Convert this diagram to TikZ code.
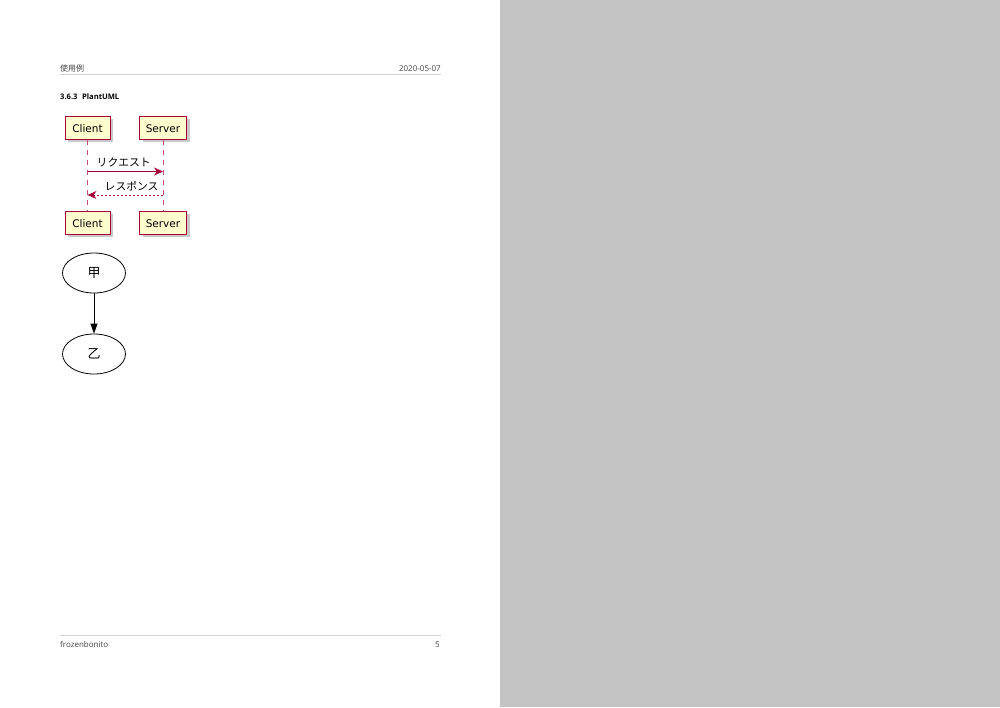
\documentclass[tikz,border=0pt]{standalone}
\usepackage{fontspec}
\setmainfont{Open Sans}
\newfontfamily\cjk{Noto Sans CJK JP}
\newfontfamily\dvs{DejaVu Sans}
\usetikzlibrary{arrows.meta,shapes.geometric,shadows}
\definecolor{pagegray}{HTML}{C3C3C3}
\definecolor{puborder}{HTML}{A80036}
\definecolor{pufill}{HTML}{FEFECE}
\definecolor{hdrtext}{HTML}{444444}
\tikzset{
  hdr/.style={inner sep=0pt, text=hdrtext, font=\fontsize{8}{9}\selectfont},
  rule/.style={draw=black!18, line width=1.3pt},
  part/.style={draw=puborder, fill=pufill, line width=1pt, minimum height=23pt,
    inner sep=0pt, text height=9.5pt, text depth=0pt, font=\dvs\fontsize{10.5}{12}\selectfont,
    drop shadow={shadow xshift=3pt, shadow yshift=-3pt, fill=black!35, opacity=0.6}},
  lifeline/.style={draw=puborder!70, dash pattern=on 5pt off 5pt, line width=0.4pt},
  msg/.style={draw=puborder, line width=1pt, -{Stealth[length=9pt,width=8pt,inset=3pt]}},
  msglbl/.style={inner sep=0pt, font=\cjk\fontsize{10.8}{12}\selectfont},
  gnode/.style={ellipse, draw=black, line width=0.8pt, minimum width=63pt, minimum height=40pt,
    inner sep=0pt, font=\cjk\fontsize{13}{15}\selectfont},
  gedge/.style={draw=black, line width=0.8pt, -{Triangle[length=10pt,width=7pt]}}
}
\begin{document}
\begin{tikzpicture}[x=1pt,y=-1pt]
\useasboundingbox (0,0) rectangle (1000,707);
\fill[pagegray] (500,0) rectangle (1000,707);
\fill[white] (0,0) rectangle (500,707);

% header
\node[hdr, anchor=base west, font=\cjk\fontsize{8}{9}\selectfont] (hl) at (60,71) {使用例};
\node[hdr, anchor=base east] (hr) at (441,71) {2020-05-07};
\coordinate (hla) at (60,74.5);
\coordinate (hlb) at (441,74.5);
\draw[rule] (hla) -- (hlb);

% section title
\node[inner sep=0pt, anchor=base west, font=\bfseries\fontsize{7.6}{9}\selectfont] (sec) at (60,99) {3.6.3\hspace{0.6em}PlantUML};

% sequence diagram
\node[part, minimum width=45pt] (ct) at (87.5,127.5) {Client};
\node[part, minimum width=47pt] (st) at (163,127.5) {Server};
\node[part, minimum width=45pt] (cb) at (87.5,222.5) {Client};
\node[part, minimum width=47pt] (sb) at (163,222.5) {Server};
\draw[lifeline] (ct.south) -- (cb.north);
\draw[lifeline] (st.south) -- (sb.north);

\coordinate (y1) at (0,171.5);
\coordinate (y2) at (0,195);
\draw[msg] (ct.south |- y1) -- (st.south |- y1);
\draw[msg, dash pattern=on 2pt off 2pt] (st.south |- y2) -- (ct.south |- y2);
\node[msglbl, anchor=base west] (l1) at (96.5,166) {リクエスト};
\node[msglbl, anchor=base west] (l2) at (104.5,190) {レスポンス};

% graph
\node[gnode] (ko) at (94,273) {甲};
\node[gnode] (otsu) at (94,354) {乙};
\draw[gedge] (ko) -- (otsu);

% footer
\coordinate (fla) at (60,635.5);
\coordinate (flb) at (441,635.5);
\draw[rule] (fla) -- (flb);
\node[hdr, anchor=base west] (fl) at (60,647.5) {frozenbonito};
\node[hdr, anchor=base east] (fr) at (440,647.5) {5};
\end{tikzpicture}
\end{document}
